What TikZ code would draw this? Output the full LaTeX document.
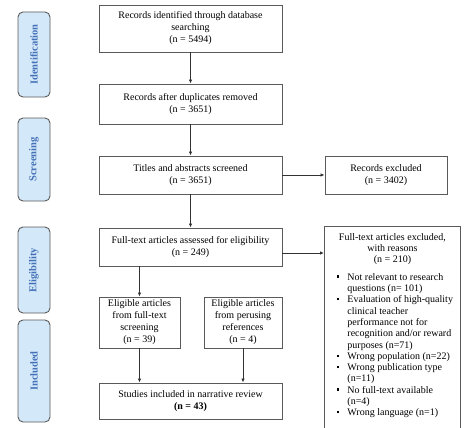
\documentclass[tikz,border=0pt]{standalone}
\usepackage{fontspec}
\setmainfont{Liberation Serif}
\usetikzlibrary{arrows.meta,positioning}

\definecolor{phasefill}{HTML}{D3E8F9}
\definecolor{phasetext}{HTML}{4470B8}
\definecolor{framegray}{HTML}{5A5A5A}

\begin{document}
\begin{tikzpicture}[x=1pt,y=-1pt,
  box/.style={draw=framegray, line width=0.9pt, align=center, inner sep=2pt,
    font=\fontsize{10}{12}\selectfont},
  listbox/.style={draw=framegray, line width=0.9pt, inner xsep=4pt, inner ysep=7pt,
    font=\fontsize{10}{11.3}\selectfont},
  phase/.style={draw=framegray, line width=0.9pt, fill=phasefill, rounded corners=5pt,
    rotate=90, minimum height=32, inner sep=1pt,
    font=\fontsize{10.5}{12}\selectfont\bfseries, text=phasetext},
  arr/.style={-{Latex[length=4pt,width=3.5pt]}, line width=0.8pt, draw=black!80}]

% Rahmen
\useasboundingbox (0,0) rectangle (474,428);
\clip (0,0) rectangle (474,428);

% Spalten
\def\xmain{190.5}
\def\xside{34}

% ------------------- Phasen -------------------
\node[phase, minimum width=85] (pid)  at (\xside,54.5) {Identification};
\node[phase, minimum width=83] (pscr) at (\xside,159.5) {Screening};
\node[phase, minimum width=86] (pel)  at (\xside,270) {Eligibility};
\node[phase, minimum width=102] (pinc) at (\xside,371) {Included};

% ------------------- Hauptspalte -------------------
\node[box, minimum width=183, minimum height=47] (ident) at (\xmain,28.5)
  {Records identified through database\\searching\\(n = 5494)};
\node[box, minimum width=183, minimum height=40] (dedup) at (\xmain,104)
  {Records after duplicates removed\\(n = 3651)};
\node[box, minimum width=183, minimum height=38] (screen) at (\xmain,175)
  {Titles and abstracts screened\\(n = 3651)};
\node[box, minimum width=183, minimum height=38] (fulltext) at (\xmain,247)
  {Full-text articles assessed for eligibility\\(n = 249)};
\node[box, minimum width=81, minimum height=51, inner sep=1pt] (eligft) at (139.5,322.5)
  {Eligible articles\\from full-text\\screening\\(n = 39)};
\node[box, minimum width=78, minimum height=51, inner sep=1pt] (eligref) at (243,322.5)
  {Eligible articles\\from perusing\\references\\(n = 4)};
\node[box, minimum width=183, minimum height=36] (incl) at (\xmain,401)
  {Studies included in narrative review\\\textbf{(n = 43)}};

% ------------------- Ausschluesse -------------------
\node[box, minimum width=122, minimum height=38] (excl) at (386,175)
  {Records excluded\\(n = 3402)};
\node[listbox, anchor=north west] (exclft) at (324,226)
  {\begin{minipage}[t][210pt][t]{128pt}
    \centering Full-text articles excluded,\\with reasons\\(n = 210)\par
    \vspace{4pt}
    \raggedright
    \begin{list}{\rule[2.4pt]{2.4pt}{2.4pt}}{\setlength{\leftmargin}{19pt}%
      \setlength{\labelwidth}{3pt}\setlength{\labelsep}{8pt}%
      \setlength{\itemsep}{0pt}\setlength{\parsep}{0pt}\setlength{\topsep}{0pt}}
    \item Not relevant to research\\questions (n= 101)
    \item Evaluation of high-quality\\clinical teacher\\performance not for\\recognition and/or reward\\purposes (n=71)
    \item Wrong population (n=22)
    \item Wrong publication type\\(n=11)
    \item No full-text available\\(n=4)
    \item Wrong language (n=1)
    \end{list}
  \end{minipage}};

% ------------------- Pfeile -------------------
\draw[arr] (ident) -- (dedup);
\draw[arr] (dedup) -- (screen);
\draw[arr] (screen) -- (excl);
\draw[arr] (screen) -- (fulltext);
\draw[arr] ([yshift=-6pt]fulltext.east) -- ([yshift=-6pt]fulltext.east -| exclft.west);
\draw[arr] (eligft.north |- fulltext.south) -- (eligft.north);
\draw[arr] (eligft.south) -- (eligft.south |- incl.north);
\draw[arr] (eligref.south) -- (eligref.south |- incl.north);

\end{tikzpicture}
\end{document}
